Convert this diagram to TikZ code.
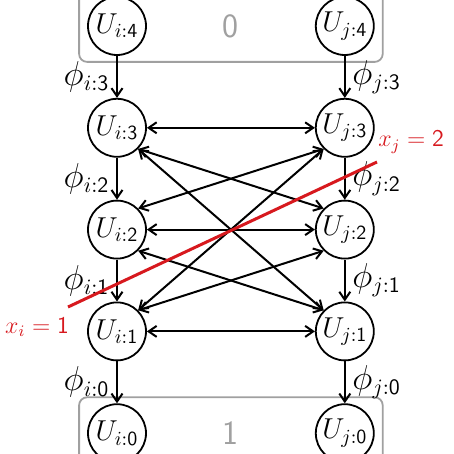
\documentclass[tikz,border=0pt]{standalone}
\usepackage{amsmath}
\usetikzlibrary{arrows.meta, positioning, fit}
\definecolor{boxgray}{RGB}{160,160,160}
\definecolor{cutred}{RGB}{215,25,30}
\newcommand{\uvar}[2]{$U_{#1\mathsf{:#2}}$}
\newcommand{\pvar}[2]{$\phi_{#1\mathsf{:#2}}$}
\tikzset{
    var/.style={
        circle,
        draw=black,
        line width=0.9pt,
        minimum size=29pt,
        inner sep=0pt,
        font=\fontsize{14}{16}\selectfont
    },
    arrow/.style={
        line width=1pt,
        ->,
        >={Straight Barb[length=4pt, width=5.5pt]}
    },
    link/.style={
        line width=1pt,
        <->,
        >={Straight Barb[length=4pt, width=5.5pt]}
    },
    group/.style={
        rectangle,
        draw=boxgray,
        rounded corners=4pt,
        line width=0.9pt,
        inner xsep=4pt,
        inner ysep=3pt
    },
    grouplabel/.style={
        text=boxgray,
        font=\fontsize{17}{20}\sffamily
    },
    flow/.style={
        font=\fontsize{16}{18}\selectfont
    },
    cut/.style={
        draw=cutred,
        line width=1.5pt
    },
    cutlabel/.style={
        text=cutred,
        font=\fontsize{12}{14}\selectfont
    },
}

\begin{document}
\begin{tikzpicture}[x=0.5pt, y=-0.5pt, node distance=21pt and 84pt]
\useasboundingbox (0,0) rectangle (454,454);

% Left column
\node[var] (i4) at (117,26) {\uvar{i}{4}};
\node[var, below=of i4] (i3) {\uvar{i}{3}};
\node[var, below=of i3] (i2) {\uvar{i}{2}};
\node[var, below=of i2] (i1) {\uvar{i}{1}};
\node[var, below=of i1] (i0) {\uvar{i}{0}};

% Right column
\node[var, right=of i4] (j4) {\uvar{j}{4}};
\node[var, right=of i3] (j3) {\uvar{j}{3}};
\node[var, right=of i2] (j2) {\uvar{j}{2}};
\node[var, right=of i1] (j1) {\uvar{j}{1}};
\node[var, right=of i0] (j0) {\uvar{j}{0}};

% Groups
\node[group, fit=(i4)(j4)] (g0) {};
\node[grouplabel] at (g0.center) {0};
\node[group, fit=(i0)(j0)] (g1) {};
\node[grouplabel] at (g1.center) {1};

% Vertical arrows
\draw[arrow] (i4) -- node[flow, left] {\pvar{i}{3}} (i3);
\draw[arrow] (i3) -- node[flow, left] {\pvar{i}{2}} (i2);
\draw[arrow] (i2) -- node[flow, left] {\pvar{i}{1}} (i1);
\draw[arrow] (i1) -- node[flow, left] {\pvar{i}{0}} (i0);
\draw[arrow] (j4) -- node[flow, right] {\pvar{j}{3}} (j3);
\draw[arrow] (j3) -- node[flow, right] {\pvar{j}{2}} (j2);
\draw[arrow] (j2) -- node[flow, right] {\pvar{j}{1}} (j1);
\draw[arrow] (j1) -- node[flow, right] {\pvar{j}{0}} (j0);

% Horizontal links
\draw[link] (i3) -- (j3);
\draw[link] (i2) -- (j2);
\draw[link] (i1) -- (j1);

% Cross links
\draw[link] (i3.south east) -- (j2.north west);
\draw[link] (i3.south east) -- (j1.north west);
\draw[link] (i2.south east) -- (j1.north west);
\draw[link] (j3.south west) -- (i2.north east);
\draw[link] (j3.south west) -- (i1.north east);
\draw[link] (j2.south west) -- (i1.north east);

% Cut
\coordinate (ci) at (68,307);
\coordinate (cj) at (377,162);
\draw[cut] (ci) -- (cj);
\node[cutlabel] (xi) at (37,327) {$x_i = \mathsf{1}$};
\node[cutlabel] (xj) at (411,142) {$x_j = \mathsf{2}$};

\end{tikzpicture}
\end{document}
